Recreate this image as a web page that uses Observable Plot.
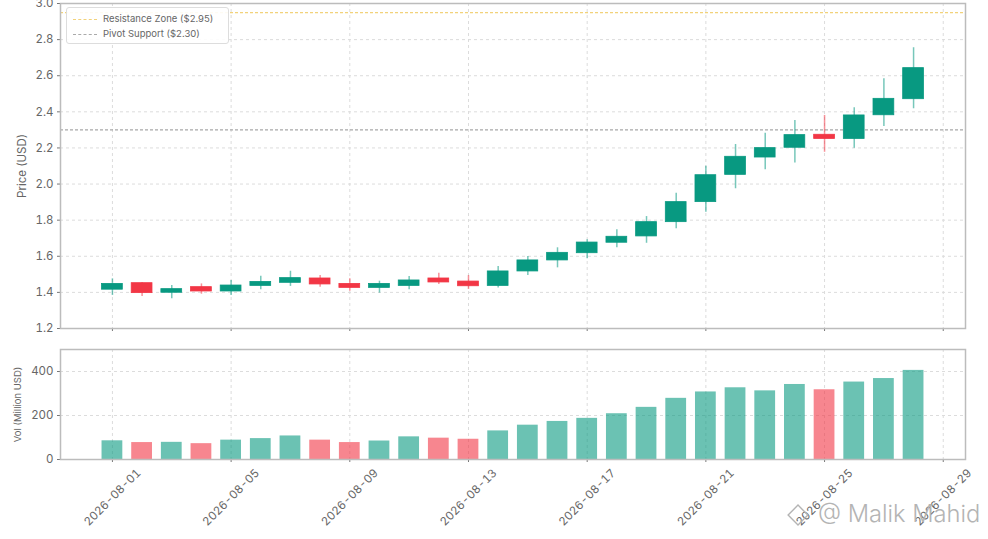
<!DOCTYPE html>
<html>
<head>
<meta charset="utf-8">
<script src="https://cdn.jsdelivr.net/npm/d3@7"></script>
<script src="https://cdn.jsdelivr.net/npm/@observablehq/plot@0.6"></script>
<style>
html,body{margin:0;padding:0;background:#fff;width:988px;height:539px;overflow:hidden;font-family:Inter,sans-serif;}
#wrap{position:relative;width:988px;height:539px;}
#wrap svg.chart{display:block;}
#botPanel svg.chart [aria-label="y-axis label"]{font-size:9.5px;}
#legend{position:absolute;left:66px;top:7px;width:163px;height:37px;box-sizing:border-box;background:rgba(255,255,255,.9);border:1px solid #ddd;border-radius:3px;font-size:9.5px;color:#666;}
#legend div{position:absolute;left:6px;height:12px;line-height:12px;white-space:nowrap;}
#legend i{display:inline-block;width:24px;height:0;border-top:1px dashed;vertical-align:middle;margin-right:6px;}
#mark{position:absolute;left:818px;top:500px;font-size:23.7px;line-height:28px;color:#b4b4b4;font-weight:300;white-space:nowrap;}
#icon{position:absolute;left:784px;top:501px;}
</style>
</head>
<body>
<div id="wrap"><div id="topPanel"></div><div id="botPanel"></div>
<div id="legend">
<div style="top:5px"><i style="border-color:#f2d27a"></i>Resistance Zone ($2.95)</div>
<div style="top:20px"><i style="border-color:#aaa"></i>Pivot Support ($2.30)</div>
</div>
<svg id="icon" width="28" height="28"><rect x="7" y="7" width="14" height="14" transform="rotate(45 14 14)" fill="none" stroke="#b4b4b4" stroke-width="1.4"/></svg>
<div id="mark">@ Malik Mahid</div>
</div>
<script>
const days = ["2026-08-01","2026-08-02","2026-08-03","2026-08-04","2026-08-05","2026-08-06","2026-08-07","2026-08-08","2026-08-09","2026-08-10","2026-08-11","2026-08-12","2026-08-13","2026-08-14","2026-08-15","2026-08-16","2026-08-17","2026-08-18","2026-08-19","2026-08-20","2026-08-21","2026-08-22","2026-08-23","2026-08-24","2026-08-25","2026-08-26","2026-08-27","2026-08-28"];
const opens  = [1.415,1.451,1.398,1.429,1.405,1.436,1.453,1.477,1.447,1.425,1.436,1.477,1.460,1.436,1.516,1.577,1.617,1.675,1.710,1.789,1.900,2.051,2.147,2.201,2.273,2.250,2.381,2.470];
const closes = [1.447,1.396,1.418,1.405,1.438,1.458,1.479,1.444,1.425,1.447,1.466,1.455,1.434,1.516,1.577,1.619,1.676,1.708,1.789,1.900,2.049,2.151,2.199,2.271,2.250,2.380,2.472,2.642];
const highs  = [1.475,1.455,1.438,1.447,1.466,1.490,1.517,1.493,1.475,1.462,1.488,1.506,1.493,1.543,1.599,1.647,1.691,1.747,1.820,1.949,2.099,2.219,2.282,2.352,2.380,2.422,2.583,2.755];
const lows   = [1.383,1.377,1.365,1.390,1.383,1.414,1.433,1.429,1.407,1.396,1.414,1.444,1.416,1.425,1.493,1.536,1.586,1.647,1.672,1.752,1.844,1.974,2.079,2.116,2.176,2.199,2.319,2.417];
const volumes = [85,77,78,72,88,95,107,88,77,84,103,97,92,130,156,173,187,208,237,278,307,326,312,341,317,352,368,405];
const tickDays = ["2026-08-01","2026-08-05","2026-08-09","2026-08-13","2026-08-17","2026-08-21","2026-08-25","2026-08-29"];
const priceTicks = [1.2,1.4,1.6,1.8,2.0,2.2,2.4,2.6,2.8,3.0];
const volTicks = [0,200,400];
const domainDays = ["2026-07-30T06:00Z","2026-08-29T18:00Z"];
const resistance = 2.95, pivot = 2.30;
const UP = "#089981", DOWN = "#f23645", GRID = "#dcdcdc", FRAME = "#bcbcbc", INK = "#666666";

const DAY = 864e5, HALF = 0.35 * DAY;
const rows = days.map((d,i)=>{
  const t = new Date(d+"T00:00Z");
  return {t, t1:new Date(+t-HALF), t2:new Date(+t+HALF), o:opens[i], c:closes[i], h:highs[i], l:lows[i], v:volumes[i], col: closes[i]>=opens[i]?UP:DOWN};
});
const ticks = tickDays.map(d=>new Date(d+"T00:00Z"));
const xDomain = domainDays.map(d=>new Date(d));
const fmt = d3.utcFormat("%Y-%m-%d");
const common = {width:988, marginLeft:60, marginRight:23, className:"chart",
  style:{fontFamily:"Inter,sans-serif", background:"#fff", color:INK, display:"block", overflow:"hidden"}};
const gx = ()=>Plot.gridX(ticks,{stroke:GRID,strokeOpacity:1,strokeDasharray:"3 3",strokeWidth:1});

const priceChart = Plot.plot({...common, height:335, marginTop:3, marginBottom:7,
  x:{type:"utc",domain:xDomain},
  y:{domain:[1.2,3.0]},
  color:{type:"identity"},
  marks:[
    gx(),
    Plot.gridY(priceTicks,{stroke:GRID,strokeOpacity:1,strokeDasharray:"3 3"}),
    Plot.ruleY([resistance],{stroke:"#f2d27a",strokeDasharray:"3 2",strokeWidth:1.2}),
    Plot.ruleY([pivot],{stroke:"#a8a8a8",strokeDasharray:"3 2",strokeWidth:1.2}),
    Plot.ruleX(rows,{x:"t",y1:"l",y2:"h",stroke:"col",strokeWidth:1.5,strokeOpacity:0.55}),
    Plot.rect(rows,{x1:"t1",x2:"t2",y1:"o",y2:"c",fill:"col",stroke:"col",strokeWidth:0.8}),
    Plot.axisX({ticks,fill:"none",label:null,tickSize:3,stroke:"#777"}),
    Plot.axisY({ticks:priceTicks,tickFormat:d3.format(".1f"),tickSize:3,tickPadding:4,fontSize:11.5,
      label:"Price (USD)",labelAnchor:"center",labelArrow:"none",labelOffset:43,stroke:"#777"}),
    Plot.frame({stroke:FRAME,strokeWidth:1.5})
  ]});
document.getElementById("topPanel").append(priceChart);

const volumeChart = Plot.plot({...common, height:204, marginTop:14, marginBottom:80,
  x:{type:"utc",domain:xDomain},
  y:{domain:[0,500]},
  color:{type:"identity"},
  marks:[
    gx(),
    Plot.gridY(volTicks,{stroke:GRID,strokeOpacity:1,strokeDasharray:"3 3"}),
    Plot.rect(rows,{x1:"t1",x2:"t2",y1:0,y2:"v",fill:"col",fillOpacity:0.6}),
    Plot.axisX({ticks,tickFormat:fmt,tickSize:3,tickRotate:-45,textAnchor:"middle",lineAnchor:"middle",tickPadding:35,fontSize:11.5,label:null,stroke:"#777"}),
    Plot.axisY({ticks:volTicks,tickSize:3,tickPadding:4,fontSize:11.5,
      label:"Vol (Million USD)",labelAnchor:"center",labelArrow:"none",labelOffset:46,stroke:"#777"}),
    Plot.frame({stroke:FRAME,strokeWidth:1.5})
  ]});
document.getElementById("botPanel").append(volumeChart);
</script>
</body>
</html>
